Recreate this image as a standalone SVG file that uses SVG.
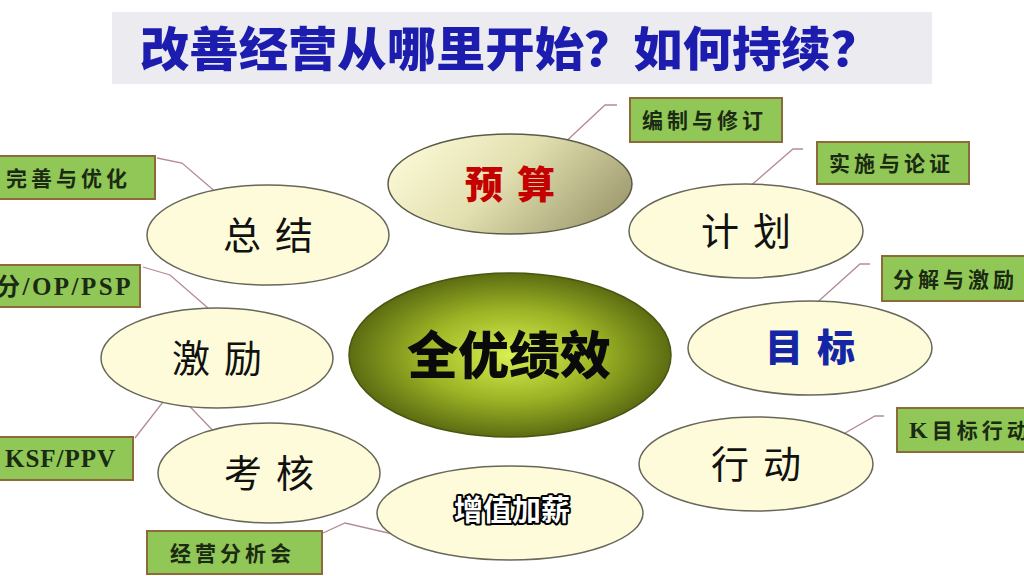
<svg xmlns="http://www.w3.org/2000/svg" width="1024" height="576" viewBox="0 0 1024 576">
<defs>
<radialGradient id="gCenter" cx="50%" cy="50%" r="50%">
<stop offset="0" stop-color="#d8f050"/>
<stop offset="0.55" stop-color="#9cb425"/>
<stop offset="1" stop-color="#5c6c12"/>
</radialGradient>
<linearGradient id="gBudget" x1="0" y1="0.3" x2="1" y2="0.7">
<stop offset="0" stop-color="#fbf9d6"/>
<stop offset="0.45" stop-color="#e2dfb0"/>
<stop offset="1" stop-color="#9d9a6e"/>
</linearGradient>
<style>
.ell{fill:#fdfbd9;stroke:#67675a;stroke-width:1.5}
.lbl{fill:#111;font-family:"Noto Sans CJK SC","Noto Sans CJK JP",sans-serif;font-size:38px;text-anchor:middle;letter-spacing:14px}
.box{fill:#90c757;stroke:#8b6a3c;stroke-width:2}
.bt{fill:#1b2a12;font-family:"Noto Sans CJK SC","Noto Sans CJK JP",sans-serif;font-size:21px;font-weight:700;letter-spacing:4px}
.bl{fill:#1b2a12;font-family:"Liberation Serif","Noto Sans CJK SC",serif;font-size:25px;font-weight:bold}
.con{fill:none;stroke:#b58a96;stroke-width:1.3}
</style>
</defs>
<rect width="1024" height="576" fill="#ffffff"/>
<g id="title">
<rect x="112" y="12" width="820" height="72" fill="#ececf0"/>
<text x="140" y="66" textLength="740" lengthAdjust="spacingAndGlyphs" font-family="'Noto Sans CJK SC',sans-serif" font-size="47" font-weight="900" fill="#1c1cae">改善经营从哪里开始？如何持续？</text>
</g>
<g id="connectors">
<polyline class="con" points="617,105 605,105 560,147"/>
<polyline class="con" points="803,149 793,149 747,189"/>
<polyline class="con" points="870,264 860,264 812,307"/>
<polyline class="con" points="884,416 875,416 838,437"/>
<polyline class="con" points="157,158 182,163 225,200"/>
<polyline class="con" points="143,267 170,275 208,308"/>
<polyline class="con" points="135,438 173,389 222,440"/>
<polyline class="con" points="323,533 345,523 410,538"/>
</g>
<g id="node-budget">
<ellipse cx="510" cy="184" rx="122" ry="50" fill="url(#gBudget)" stroke="#5b5b48" stroke-width="1.5"/>
<text x="517" y="198" font-family="'Noto Sans CJK SC',sans-serif" font-size="38" font-weight="900" fill="#c40000" text-anchor="middle" letter-spacing="14">预算</text>
</g>
<g id="node-plan">
<ellipse class="ell" cx="746" cy="231" rx="117" ry="47"/>
<text class="lbl" x="753" y="245">计划</text>
</g>
<g id="node-target">
<ellipse class="ell" cx="810" cy="348" rx="122" ry="47"/>
<text x="817" y="361" font-family="'Noto Sans CJK SC',sans-serif" font-size="38" font-weight="900" fill="#1426a6" text-anchor="middle" letter-spacing="14">目标</text>
</g>
<g id="node-action">
<ellipse class="ell" cx="756" cy="464" rx="117" ry="47"/>
<text class="lbl" x="763" y="478">行动</text>
</g>
<g id="node-raise">
<ellipse class="ell" cx="510" cy="513" rx="133" ry="47"/>
</g>
<g id="node-assess">
<ellipse class="ell" cx="269" cy="473" rx="111" ry="50"/>
<text class="lbl" x="276" y="487">考核</text>
</g>
<g id="node-incentive">
<ellipse class="ell" cx="217" cy="358" rx="116" ry="50"/>
<text class="lbl" x="224" y="372">激励</text>
</g>
<g id="node-summary">
<ellipse class="ell" cx="268" cy="235" rx="121" ry="50"/>
<text class="lbl" x="275" y="249">总结</text>
</g>
<g id="node-center">
<ellipse cx="510" cy="355" rx="161" ry="82" fill="url(#gCenter)" stroke="#4a5510" stroke-width="1.5"/>
<text x="509" y="374" font-family="'Noto Sans CJK SC',sans-serif" font-size="51" font-weight="900" fill="#0a0a0a" text-anchor="middle">全优绩效</text>
</g>
<g id="box-edit">
<rect class="box" x="630" y="98" width="152" height="44"/>
<text class="bt" x="642" y="128">编制与修订</text>
</g>
<g id="box-implement">
<rect class="box" x="817" y="142" width="152" height="42"/>
<text class="bt" x="829" y="171">实施与论证</text>
</g>
<g id="box-decompose">
<rect class="box" x="882" y="256" width="160" height="45"/>
<text class="bt" x="893" y="287">分解与激励</text>
</g>
<g id="box-kaction">
<rect class="box" x="897" y="408" width="140" height="44"/>
<text class="bt" x="909" y="438"><tspan font-family="'Liberation Serif',serif" font-weight="bold" font-size="24">K</tspan>目标行动</text>
</g>
<g id="box-improve">
<rect class="box" x="-10" y="156" width="165" height="43"/>
<text class="bt" x="6" y="186">完善与优化</text>
</g>
<g id="box-op">
<rect class="box" x="-10" y="265" width="150" height="42"/>
<text class="bl" x="133" y="295" text-anchor="end" letter-spacing="2.5"><tspan font-family="'Noto Sans CJK SC',sans-serif" font-weight="700" font-size="24">积分</tspan>/OP/PSP</text>
</g>
<g id="box-ksf">
<rect class="box" x="-10" y="437" width="143" height="43"/>
<text class="bl" x="5" y="467" letter-spacing="1">KSF/PPV</text>
</g>
<g id="box-meeting">
<rect class="box" x="147" y="531" width="175" height="43"/>
<text class="bt" x="170" y="561">经营分析会</text>
</g>
<g id="subtitle">
<text x="512" y="521" font-family="'Noto Sans CJK SC',sans-serif" font-size="29" font-weight="bold" fill="#ffffff" stroke="#000000" stroke-width="4" paint-order="stroke" stroke-linejoin="round" text-anchor="middle">增值加薪</text>
</g>
</svg>
